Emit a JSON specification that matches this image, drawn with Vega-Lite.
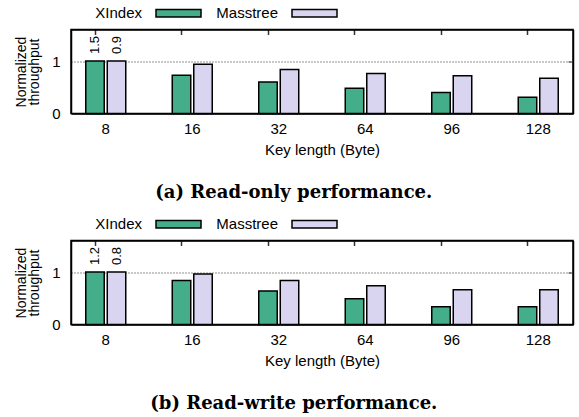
{
  "$schema": "https://vega.github.io/schema/vega-lite/v6.json",
  "padding": {"left": 13, "top": -11.5, "right": 6, "bottom": 0},
  "background": "white",
  "config": {
    "font": "Liberation Sans",
    "view": {"stroke": "black", "strokeWidth": 1.5},
    "style": {"cell": {"stroke": "black", "strokeWidth": 1.5}},
    "axis": {
      "labelFont": "Liberation Sans", "labelFontSize": 15, "labelColor": "black",
      "titleFont": "Liberation Sans", "titleFontSize": 15, "titleFontWeight": "normal", "titleColor": "black",
      "domainColor": "black", "domainWidth": 1.5
    },
    "legend": {
      "labelFont": "Liberation Sans", "labelFontSize": 15, "labelColor": "black",
      "labelAlign": "right", "labelOffset": -60,
      "symbolType": "M-1,-0.17H1V0.17H-1Z", "symbolSize": 2025,
      "symbolStrokeColor": "black", "symbolStrokeWidth": 1.5, "symbolOpacity": 1,
      "columnPadding": 12
    }
  },
  "datasets": {
    "perf": [
      {"panel": "ro", "key": "8", "system": "XIndex", "value": 1.0, "label": "1.5"},
      {"panel": "ro", "key": "16", "system": "XIndex", "value": 0.73, "label": null},
      {"panel": "ro", "key": "32", "system": "XIndex", "value": 0.60, "label": null},
      {"panel": "ro", "key": "64", "system": "XIndex", "value": 0.48, "label": null},
      {"panel": "ro", "key": "96", "system": "XIndex", "value": 0.40, "label": null},
      {"panel": "ro", "key": "128", "system": "XIndex", "value": 0.31, "label": null},
      {"panel": "ro", "key": "8", "system": "Masstree", "value": 1.0, "label": "0.9"},
      {"panel": "ro", "key": "16", "system": "Masstree", "value": 0.94, "label": null},
      {"panel": "ro", "key": "32", "system": "Masstree", "value": 0.84, "label": null},
      {"panel": "ro", "key": "64", "system": "Masstree", "value": 0.76, "label": null},
      {"panel": "ro", "key": "96", "system": "Masstree", "value": 0.72, "label": null},
      {"panel": "ro", "key": "128", "system": "Masstree", "value": 0.67, "label": null},
      {"panel": "rw", "key": "8", "system": "XIndex", "value": 1.0, "label": "1.2"},
      {"panel": "rw", "key": "16", "system": "XIndex", "value": 0.84, "label": null},
      {"panel": "rw", "key": "32", "system": "XIndex", "value": 0.64, "label": null},
      {"panel": "rw", "key": "64", "system": "XIndex", "value": 0.49, "label": null},
      {"panel": "rw", "key": "96", "system": "XIndex", "value": 0.34, "label": null},
      {"panel": "rw", "key": "128", "system": "XIndex", "value": 0.34, "label": null},
      {"panel": "rw", "key": "8", "system": "Masstree", "value": 1.0, "label": "0.8"},
      {"panel": "rw", "key": "16", "system": "Masstree", "value": 0.96, "label": null},
      {"panel": "rw", "key": "32", "system": "Masstree", "value": 0.84, "label": null},
      {"panel": "rw", "key": "64", "system": "Masstree", "value": 0.74, "label": null},
      {"panel": "rw", "key": "96", "system": "Masstree", "value": 0.66, "label": null},
      {"panel": "rw", "key": "128", "system": "Masstree", "value": 0.66, "label": null}
    ]
  },
  "spacing": -3,
  "resolve": {"scale": {"fill": "independent"}, "legend": {"fill": "independent"}},
  "vconcat": [
    {
      "data": {"name": "perf"},
      "transform": [{"filter": "datum.panel === 'ro'"}],
      "width": 502, "height": 84,
      "view": {"stroke": "black", "strokeWidth": 1.5},
      "title": {"text": "(a) Read-only performance.", "orient": "bottom", "font": "DejaVu Serif", "fontWeight": "bold", "fontSize": 18, "color": "black", "offset": 26, "anchor": "middle", "frame": "bounds"},
      "layer": [
        {
          "mark": {"type": "bar", "stroke": "black", "strokeWidth": 1.5},
          "encoding": {
            "x": {"field": "key", "type": "ordinal", "scale": {"domain": ["8", "16", "32", "64", "96", "128"], "paddingInner": 0.5376, "paddingOuter": 0.1706},
                  "axis": {"orient": "bottom", "title": "Key length (Byte)", "labelAngle": 0, "ticks": false, "domain": true, "labelPadding": 8, "titlePadding": 6}},
            "xOffset": {"field": "system", "type": "nominal", "scale": {"domain": ["XIndex", "Masstree"], "paddingInner": 0.14, "paddingOuter": 0}},
            "y": {"field": "value", "type": "quantitative", "scale": {"domain": [0, 1.6], "nice": false},
                  "axis": {"values": [0, 1], "title": ["Normalized", "throughput"], "titleFontSize": 14, "titleLineHeight": 13.5, "titlePadding": 10, "grid": true, "gridDash": [1, 2], "gridColor": "#222", "gridWidth": 1, "ticks": false, "domain": true, "labelPadding": 11}},
            "fill": {"field": "system", "type": "nominal", "scale": {"domain": ["XIndex", "Masstree"], "range": ["#44ad8a", "#d9d4f0"]},
                     "legend": {"title": null, "orient": "none", "legendX": 84, "legendY": -40, "direction": "horizontal"}}
          }
        },
        {
          "transform": [{"filter": "datum.label != null"}],
          "mark": {"type": "text", "angle": 270, "align": "left", "baseline": "middle", "dx": 7, "fontSize": 13, "color": "black"},
          "encoding": {
            "x": {"field": "key", "type": "ordinal", "axis": {"orient": "top", "labels": false, "title": null, "ticks": true, "tickSize": -5, "tickColor": "#333", "tickWidth": 1.5, "bandPosition": 0.24, "domain": true}},
            "xOffset": {"field": "system", "type": "nominal"},
            "y": {"field": "value", "type": "quantitative", "axis": {"orient": "right", "values": [1], "labels": false, "title": null, "tickSize": -5, "tickColor": "#333", "grid": false, "domain": true}},
            "text": {"field": "label"}
          }
        }
      ],
      "resolve": {"axis": {"x": "independent", "y": "independent"}}
    },
    {
      "data": {"name": "perf"},
      "transform": [{"filter": "datum.panel === 'rw'"}],
      "width": 502, "height": 84,
      "view": {"stroke": "black", "strokeWidth": 1.5},
      "title": {"text": "(b) Read-write performance.", "orient": "bottom", "font": "DejaVu Serif", "fontWeight": "bold", "fontSize": 18, "color": "black", "offset": 26, "anchor": "middle", "frame": "bounds"},
      "layer": [
        {
          "mark": {"type": "bar", "stroke": "black", "strokeWidth": 1.5},
          "encoding": {
            "x": {"field": "key", "type": "ordinal", "scale": {"domain": ["8", "16", "32", "64", "96", "128"], "paddingInner": 0.5376, "paddingOuter": 0.1706},
                  "axis": {"orient": "bottom", "title": "Key length (Byte)", "labelAngle": 0, "ticks": false, "domain": true, "labelPadding": 8, "titlePadding": 6}},
            "xOffset": {"field": "system", "type": "nominal", "scale": {"domain": ["XIndex", "Masstree"], "paddingInner": 0.14, "paddingOuter": 0}},
            "y": {"field": "value", "type": "quantitative", "scale": {"domain": [0, 1.6], "nice": false},
                  "axis": {"values": [0, 1], "title": ["Normalized", "throughput"], "titleFontSize": 14, "titleLineHeight": 13.5, "titlePadding": 10, "grid": true, "gridDash": [1, 2], "gridColor": "#222", "gridWidth": 1, "ticks": false, "domain": true, "labelPadding": 11}},
            "fill": {"field": "system", "type": "nominal", "scale": {"domain": ["XIndex", "Masstree"], "range": ["#44ad8a", "#d9d4f0"]},
                     "legend": {"title": null, "orient": "none", "legendX": 84, "legendY": -40, "direction": "horizontal"}}
          }
        },
        {
          "transform": [{"filter": "datum.label != null"}],
          "mark": {"type": "text", "angle": 270, "align": "left", "baseline": "middle", "dx": 7, "fontSize": 13, "color": "black"},
          "encoding": {
            "x": {"field": "key", "type": "ordinal", "axis": {"orient": "top", "labels": false, "title": null, "ticks": true, "tickSize": -5, "tickColor": "#333", "tickWidth": 1.5, "bandPosition": 0.24, "domain": true}},
            "xOffset": {"field": "system", "type": "nominal"},
            "y": {"field": "value", "type": "quantitative", "axis": {"orient": "right", "values": [1], "labels": false, "title": null, "tickSize": -5, "tickColor": "#333", "grid": false, "domain": true}},
            "text": {"field": "label"}
          }
        }
      ],
      "resolve": {"axis": {"x": "independent", "y": "independent"}}
    }
  ]
}
